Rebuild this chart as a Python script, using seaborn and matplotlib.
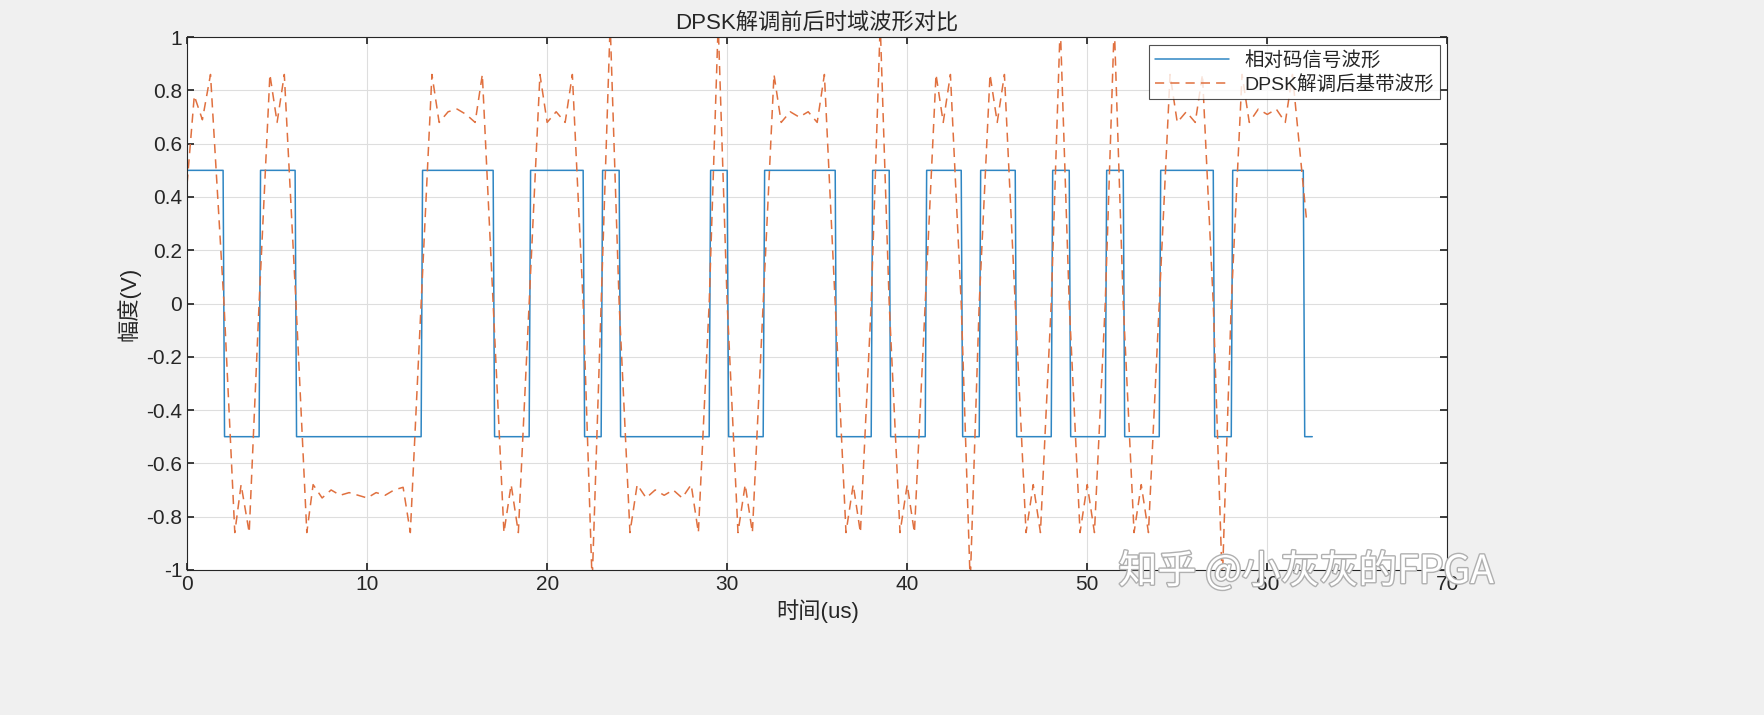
import matplotlib
matplotlib.use("Agg")
import matplotlib.pyplot as plt
import seaborn as sns
import pandas as pd
import matplotlib.patheffects as pe

# relative code (blue): segment boundaries and levels
edges = [0, 2, 4, 6, 13, 17, 19, 22, 23, 24, 29, 30, 32, 36, 38, 39, 41, 43, 44, 46, 48, 49, 51, 52, 54, 57, 58, 62, 62.5]
levels = [0.5, -0.5, 0.5, -0.5, 0.5, -0.5, 0.5, -0.5, 0.5, -0.5, 0.5, -0.5, 0.5, -0.5, 0.5, -0.5, 0.5, -0.5, 0.5, -0.5, 0.5, -0.5, 0.5, -0.5, 0.5, -0.5, 0.5, -0.5]

# demodulated baseband (orange) key points
orange_t = [0, 0.4, 0.85, 1.3, 2.05,
            2.65, 3.0, 3.45, 4.0,
            4.6, 5.0, 5.4, 6.05,
            6.65, 7.0, 7.5, 8.0, 8.5, 9.0, 9.5, 10.0, 10.5, 11.0, 11.5, 12.0, 12.4, 13.0,
            13.6, 14.0, 14.5, 15.0, 15.5, 16.0, 16.4, 17.0,
            17.6, 18.0, 18.4, 19.0,
            19.6, 20.0, 20.5, 21.0, 21.4, 22.0,
            22.5, 23.0, 23.5, 24.0,
            24.6, 25.0, 25.5, 26.0, 26.5, 27.0, 27.5, 28.0, 28.4, 29.0,
            29.5, 30.0,
            30.6, 31.0, 31.4, 32.0,
            32.6, 33.0, 33.5, 34.0, 34.5, 35.0, 35.4, 36.0,
            36.6, 37.0, 37.4, 38.0,
            38.5, 39.0,
            39.6, 40.0, 40.4, 41.0,
            41.6, 42.0, 42.4, 43.0,
            43.5, 44.0,
            44.6, 45.0, 45.4, 46.0,
            46.6, 47.0, 47.4, 48.0,
            48.5, 49.0,
            49.6, 50.0, 50.4, 51.0,
            51.5, 52.0,
            52.6, 53.0, 53.4, 54.0,
            54.6, 55.0, 55.5, 56.0, 56.4, 57.0,
            57.5, 58.0,
            58.6, 59.0, 59.5, 60.0, 60.5, 61.0, 61.4, 62.2]
orange_v = [0.45, 0.78, 0.69, 0.86, 0,
            -0.86, -0.68, -0.86, 0,
            0.86, 0.68, 0.86, 0,
            -0.86, -0.68, -0.73, -0.70, -0.72, -0.71, -0.72, -0.73, -0.71, -0.72, -0.70, -0.69, -0.86, 0,
            0.86, 0.68, 0.72, 0.73, 0.71, 0.68, 0.86, 0,
            -0.86, -0.68, -0.86, 0,
            0.86, 0.68, 0.72, 0.68, 0.86, 0,
            -1.05, 0, 1.05, 0,
            -0.86, -0.68, -0.73, -0.70, -0.72, -0.70, -0.73, -0.68, -0.86, 0,
            1.05, 0,
            -0.86, -0.68, -0.86, 0,
            0.86, 0.68, 0.72, 0.70, 0.72, 0.68, 0.86, 0,
            -0.86, -0.68, -0.86, 0,
            1.05, 0,
            -0.86, -0.68, -0.86, 0,
            0.86, 0.68, 0.86, 0,
            -1.05, 0,
            0.86, 0.68, 0.86, 0,
            -0.86, -0.68, -0.86, 0,
            1.05, 0,
            -0.86, -0.68, -0.86, 0,
            1.05, 0,
            -0.86, -0.68, -0.86, 0,
            0.86, 0.68, 0.72, 0.68, 0.86, 0,
            -1.05, 0,
            0.86, 0.68, 0.73, 0.71, 0.73, 0.68, 0.86, 0.3]

xticks = [0, 10, 20, 30, 40, 50, 60, 70]
yticks = [-1, -0.8, -0.6, -0.4, -0.2, 0, 0.2, 0.4, 0.6, 0.8, 1]

sns.set_theme(style="whitegrid")
plt.rcParams['font.family'] = ['Liberation Sans', 'Noto Sans CJK SC', 'DejaVu Sans']
plt.rcParams['axes.unicode_minus'] = False

bx, by = [], []
for i, lv in enumerate(levels):
    bx += [edges[i] + (0.08 if i > 0 else 0), edges[i + 1]]
    by += [lv, lv]
blue = pd.DataFrame({"t": bx, "v": by})
ora = pd.DataFrame({"t": orange_t, "v": orange_v})

fig = plt.figure(figsize=(17.65, 7.15), dpi=100, facecolor="#f0f0f0")
ax = fig.add_axes([0.106, 0.203, 0.714, 0.745])
ax.set_facecolor("white")
sns.lineplot(data=blue, x="t", y="v", ax=ax, color="#2f86c3", lw=1.1, sort=False, label="相对码信号波形")
sns.lineplot(data=ora, x="t", y="v", ax=ax, color="#e0703f", lw=1.1, sort=False, dashes=False,
             linestyle=(0, (6, 4)), label="DPSK解调后基带波形")
ax.set_xlim(0, 70)
ax.set_ylim(-1, 1)
ax.set_xticks(xticks)
ax.set_yticks(yticks)
ax.set_yticklabels(["-1", "-0.8", "-0.6", "-0.4", "-0.2", "0", "0.2", "0.4", "0.6", "0.8", "1"])
ax.tick_params(labelsize=15, colors="#262626", direction="in", length=5, left=True, bottom=True, top=True, right=True)
ax.grid(True, color="#dedede", lw=0.8)
for s in ax.spines.values():
    s.set_color("#262626"); s.set_linewidth(0.8)
ax.set_xlabel("时间(us)", fontsize=16, color="#262626", labelpad=4)
ax.set_ylabel("幅度(V)", fontsize=16, color="#262626", labelpad=4)
ax.set_title("DPSK解调前后时域波形对比", fontsize=16, color="#262626", pad=6)
leg = ax.legend(loc="upper right", fontsize=14, frameon=True, fancybox=False, borderaxespad=0.4,
                handlelength=3.8, borderpad=0.3, labelspacing=0.25)
leg.get_frame().set_edgecolor("#262626"); leg.get_frame().set_linewidth(0.8)
fig.text(0.74, 0.2, "知乎 @小灰灰的FPGA", fontsize=28, color="white", ha="center", va="center",
         family=['Noto Sans CJK SC', 'DejaVu Sans'],
         path_effects=[pe.withStroke(linewidth=2, foreground="#b0b0b0")])
fig.savefig("out.png", dpi=100, facecolor=fig.get_facecolor())
